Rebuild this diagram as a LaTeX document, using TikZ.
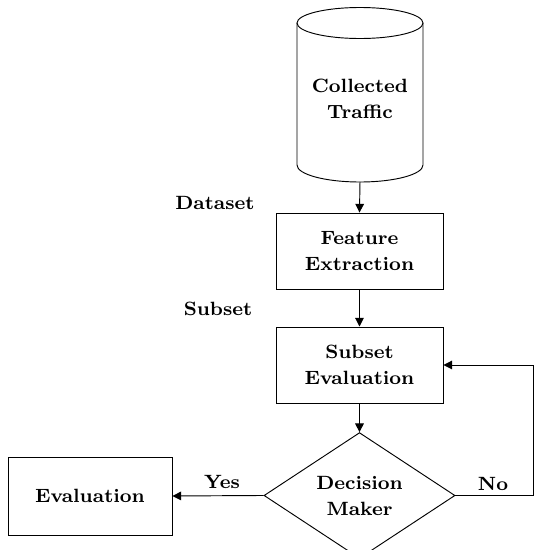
\documentclass[tikz,border=0pt]{standalone}
\usepackage{amsmath}
\usetikzlibrary{shapes.geometric,arrows.meta}

\begin{document}
\begin{tikzpicture}[scale=0.15]
\tikzstyle{every node}+=[inner sep=0pt, font=\fontsize{8.2}{11.1}\selectfont\bfseries, align=center]
\tikzstyle{procbox}=[draw=black, rectangle, minimum width=2.505cm, minimum height=1.14cm]
\tikzstyle{flow}=[black, -{Triangle[length=1.3mm, width=1.3mm]}]
\useasboundingbox (0,0) rectangle (53.9,-55);
\draw [black] (36,-2.3) ellipse (6.3 and 1.55);
\draw [black] (29.7,-2.3) -- (29.7,-16.5) arc (180:360:6.3 and 1.7) -- (42.3,-2.3);
\draw (36,-9.9) node (traffic) {Collected\\Traffic};
\coordinate (trafficend) at (36,-18.2);
\node [procbox] (feature) at (35.95,-25.1) {Feature\\Extraction};
\node [procbox] (subset) at (35.95,-36.5) {Subset\\Evaluation};
\node [draw=black, diamond, minimum width=2.865cm, minimum height=1.575cm] (decision) at (35.95,-49.55) {Decision\\Maker};
\node [draw=black, rectangle, minimum width=2.46cm, minimum height=1.17cm] (eval) at (9,-49.6) {Evaluation};
\draw (21.5,-20.3) node (dataset) {Dataset};
\draw (21.8,-30.9) node (subsetlbl) {Subset};
\draw (22.2,-48.2) node (yes) {Yes};
\draw (49.3,-48.4) node (no) {No};
\coordinate (back) at (53.3,-49.55);
\draw [flow] (trafficend) -- (feature.north);
\draw [flow] (feature.south) -- (subset.north);
\draw [flow] (subset.south) -- (decision.north);
\draw [flow] (decision.west) -- (eval.east);
\draw [flow] (decision.east) -- (back) |- (subset.east);
\end{tikzpicture}
\end{document}
